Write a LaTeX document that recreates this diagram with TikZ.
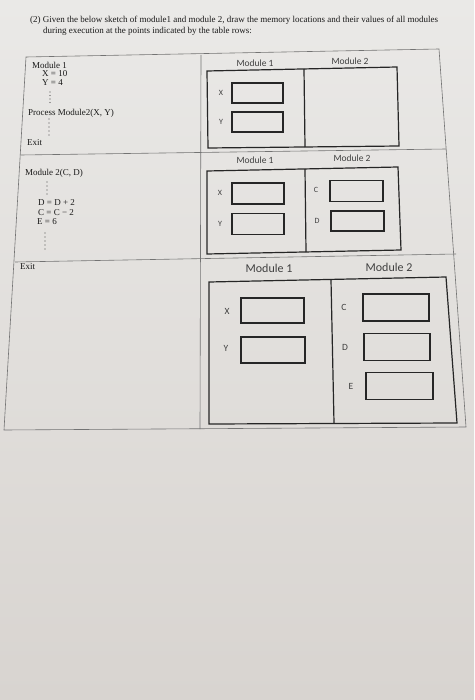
\documentclass[tikz,border=0pt]{standalone}
\usepackage{fontspec}
\setmainfont{Liberation Serif}
\newfontfamily\lab{Carlito}
\begin{document}
\begin{tikzpicture}[x=1pt,y=-1pt,
  page/.style={draw=black!55, line width=0.6pt},
  memframe/.style={draw=black!85, line width=1.2pt, line join=miter},
  cell/.style={draw=black!85, line width=1.3pt, inner sep=0pt},
  code/.style={anchor=west, inner sep=0pt, font=\fontsize{9}{10}\selectfont, text=black!90},
  title/.style={anchor=west, inner sep=0pt, font=\fontsize{9}{10}\selectfont, text=black!90},
  head/.style={inner sep=0pt, font=\lab\fontsize{9.5}{11}\selectfont, text=black!75},
  bighead/.style={inner sep=0pt, font=\lab\fontsize{12}{14}\selectfont, text=black!75},
  var/.style={inner sep=0pt, font=\lab\fontsize{8}{9}\selectfont, text=black!75},
  bigvar/.style={inner sep=0pt, font=\lab\fontsize{9.5}{11}\selectfont, text=black!75},
  dotcol/.style={fill=black!70},
]
\useasboundingbox (0,0) rectangle (474,700);
\fill[top color={rgb,255:red,234;green,233;blue,231}, bottom color={rgb,255:red,216;green,212;blue,208}] (0,0) rectangle (474,700);

% title
\node[title] (t1) at (30,20) {(2) Given the below sketch of module1 and module 2, draw the memory locations and their values of all modules};
\node[title] (t2) at (43,31) {during execution at the points indicated by the table rows:};

% outer table (photographed, slightly skewed)
\coordinate (tl) at (26,57);
\coordinate (tr) at (439,49);
\coordinate (br) at (466,427);
\coordinate (bl) at (4,430);
\draw[page] (tl) -- (tr) -- (br) -- (bl) -- cycle;
\coordinate (ct) at (201,55);
\coordinate (cb) at (200,429);
\draw[page] (ct) -- (cb);
\coordinate (r1l) at (21,155);
\coordinate (r1r) at (446,149);
\draw[page] (r1l) -- (r1r);
\coordinate (r2l) at (15,262);
\coordinate (r2r) at (456,254);
\draw[page] (r2l) -- (r2r);

% row 1 code
\node[code] (m1) at (32,65) {Module 1};
\node[code] (x10) at (42,74) {X = 10};
\node[code] (y4) at (42,83) {Y = 4};
\foreach \yy in {92,95.5,99,102.5} \fill[dotcol] (50,\yy) circle (0.55);
\node[code] (proc) at (28,113) {Process Module2(X, Y)};
\foreach \yy in {119,123,127,131,135} \fill[dotcol] (49,\yy) circle (0.55);
\node[code] (exit1) at (27,143) {Exit};

% row 2 code
\node[code] (m2) at (25,173) {Module 2(C, D)};
\foreach \yy in {182,186,190,194} \fill[dotcol] (47,\yy) circle (0.55);
\node[code] (dd) at (38,203) {D = D + 2};
\node[code] (cc) at (38,212.5) {C = C − 2};
\node[code] (ee) at (37,222) {E = 6};
\foreach \yy in {233,237,241,245,249} \fill[dotcol] (45,\yy) circle (0.55);

% row 3 code
\node[code] (exit2) at (20,267) {Exit};

% row 1 memory
\node[head] (h11) at (255,63) {Module 1};
\node[head] (h12) at (350,61) {Module 2};
\draw[memframe] (207,71) -- (397,67) -- (399,146) -- (208,148) -- cycle;
\draw[memframe] (304,69) -- (305,147);
\node[cell, minimum width=51pt, minimum height=20pt] (ax1) at (257.5,93) {};
\node[cell, minimum width=51pt, minimum height=20pt] (ay1) at (257.5,122) {};
\node[var] (lx1) at (221,93) {X};
\node[var] (ly1) at (221,122) {Y};

% row 2 memory
\node[head] (h21) at (255,160.5) {Module 1};
\node[head] (h22) at (352,158) {Module 2};
\draw[memframe] (207,171) -- (398,167) -- (401,250) -- (207,254) -- cycle;
\draw[memframe] (305,169) -- (306,252);
\node[cell, minimum width=52pt, minimum height=21pt] (ax2) at (258,193.5) {};
\node[cell, minimum width=52pt, minimum height=21pt] (ay2) at (258,224) {};
\node[cell, minimum width=53pt, minimum height=21pt] (ac2) at (356.5,191) {};
\node[cell, minimum width=53pt, minimum height=20pt] (ad2) at (357.5,221) {};
\node[var] (lx2) at (220,193) {X};
\node[var] (ly2) at (220,224) {Y};
\node[var] (lc2) at (316,190) {C};
\node[var] (ld2) at (317,221) {D};

% row 3 memory
\node[bighead] (h31) at (269,268) {Module 1};
\node[bighead] (h32) at (389,267) {Module 2};
\draw[memframe] (209,282) -- (446,277) -- (457,423) -- (209,424) -- cycle;
\draw[memframe] (331,280) -- (334,423);
\node[cell, minimum width=63pt, minimum height=25pt] (ax3) at (272.5,310.5) {};
\node[cell, minimum width=64pt, minimum height=26pt] (ay3) at (273,350) {};
\node[cell, minimum width=66pt, minimum height=27pt] (ac3) at (396,307.5) {};
\node[cell, minimum width=66pt, minimum height=27pt] (ad3) at (397,347) {};
\node[cell, minimum width=67pt, minimum height=27pt] (ae3) at (399.5,386) {};
\node[bigvar] (lx3) at (227,311) {X};
\node[bigvar] (ly3) at (226,348) {Y};
\node[bigvar] (lc3) at (344,307) {C};
\node[bigvar] (ld3) at (345,347) {D};
\node[bigvar] (le3) at (351,386) {E};
\end{tikzpicture}
\end{document}
